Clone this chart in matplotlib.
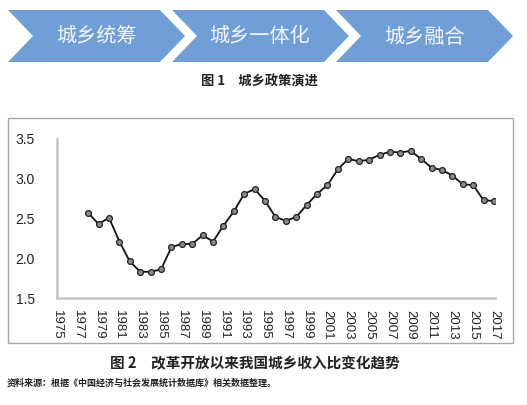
import matplotlib.pyplot as plt
from matplotlib.patches import Polygon, Rectangle

plt.rcParams['font.family'] = ['Noto Sans CJK SC', 'DejaVu Sans']

# 城乡政策演进（图1）
stages = ['城乡统筹', '城乡一体化', '城乡融合']

# 城乡收入比（图2）
years = list(range(1978, 2018))
ratio = [2.57, 2.43, 2.51, 2.21, 1.96, 1.83, 1.83, 1.86, 2.14, 2.18,
         2.18, 2.29, 2.21, 2.41, 2.59, 2.81, 2.87, 2.72, 2.52, 2.47,
         2.52, 2.67, 2.81, 2.92, 3.12, 3.25, 3.22, 3.24, 3.30, 3.34,
         3.33, 3.35, 3.25, 3.14, 3.11, 3.04, 2.93, 2.92, 2.73, 2.72]
xticks = list(range(1975, 2018, 2))

W, H = 527, 405
fig = plt.figure(figsize=(W / 100, H / 100), dpi=100)

# 顶部箭头（像素坐标 -> 图坐标）
def px(x, y):
    return (x / W, 1 - y / H)

top, bot, mid = 10, 62, 36
for i, name in enumerate(stages):
    x0 = 8 + 164 * i
    pts = [px(x0, top), px(x0 + 152, top), px(x0 + 177, mid),
           px(x0 + 152, bot), px(x0, bot), px(x0 + 25, mid)]
    fig.patches.append(Polygon(pts, closed=True, transform=fig.transFigure,
                               facecolor='#6f9fd6', edgecolor='none'))
    fig.text((x0 + 88) / W, 1 - 37 / H, name, ha='center', va='center',
             color='#f2f5fa', fontsize=14.5)

fig.text(259 / W, 1 - 82 / H, '图 1　城乡政策演进', ha='center', va='center',
         fontsize=9.5, fontweight='bold', color='#222222')

# 外框
fig.patches.append(Rectangle(px(8, 343), (513 - 8) / W, (343 - 118) / H,
                             transform=fig.transFigure, facecolor='none',
                             edgecolor='#a8a8a8', linewidth=1.0))

ax = fig.add_axes([57 / W, 1 - 298 / H, (495 - 57) / W, (298 - 139) / H])
ax.plot(years, ratio, color='#111111', linewidth=1.3, marker='o',
        markersize=4.2, markerfacecolor='#8a8a8a', markeredgecolor='#222222',
        markeredgewidth=0.9)
ax.set_xlim(1975, 2017.1)
ax.set_ylim(1.5, 3.5)
ax.set_yticks([1.5, 2.0, 2.5, 3.0, 3.5])
ax.set_yticklabels(['1.5', '2.0', '2.5', '3.0', '3.5'])
ax.set_xticks(xticks)
ax.set_xticklabels([str(y) for y in xticks], rotation=-90)
ax.tick_params(axis='y', length=0, pad=16, labelsize=10, labelcolor='#222222')
ax.tick_params(axis='x', length=0, pad=9, labelsize=9.5, labelcolor='#222222')
for lbl in ax.get_xticklabels() + ax.get_yticklabels():
    lbl.set_family(['Liberation Sans', 'DejaVu Sans'])
for s in ['top', 'right']:
    ax.spines[s].set_visible(False)
for s in ['left', 'bottom']:
    ax.spines[s].set_color('#c4c4c4')
    ax.spines[s].set_linewidth(1.8)

fig.text(255 / W, 1 - 363 / H, '图 2　改革开放以来我国城乡收入比变化趋势',
         ha='center', va='center', fontsize=10.5, fontweight='bold',
         color='#222222')
fig.text(7 / W, 1 - 383 / H, '资料来源：根据《中国经济与社会发展统计数据库》相关数据整理。',
         ha='left', va='center', fontsize=6.5, fontweight='bold', color='#222222')

fig.savefig('out.png', dpi=100)
